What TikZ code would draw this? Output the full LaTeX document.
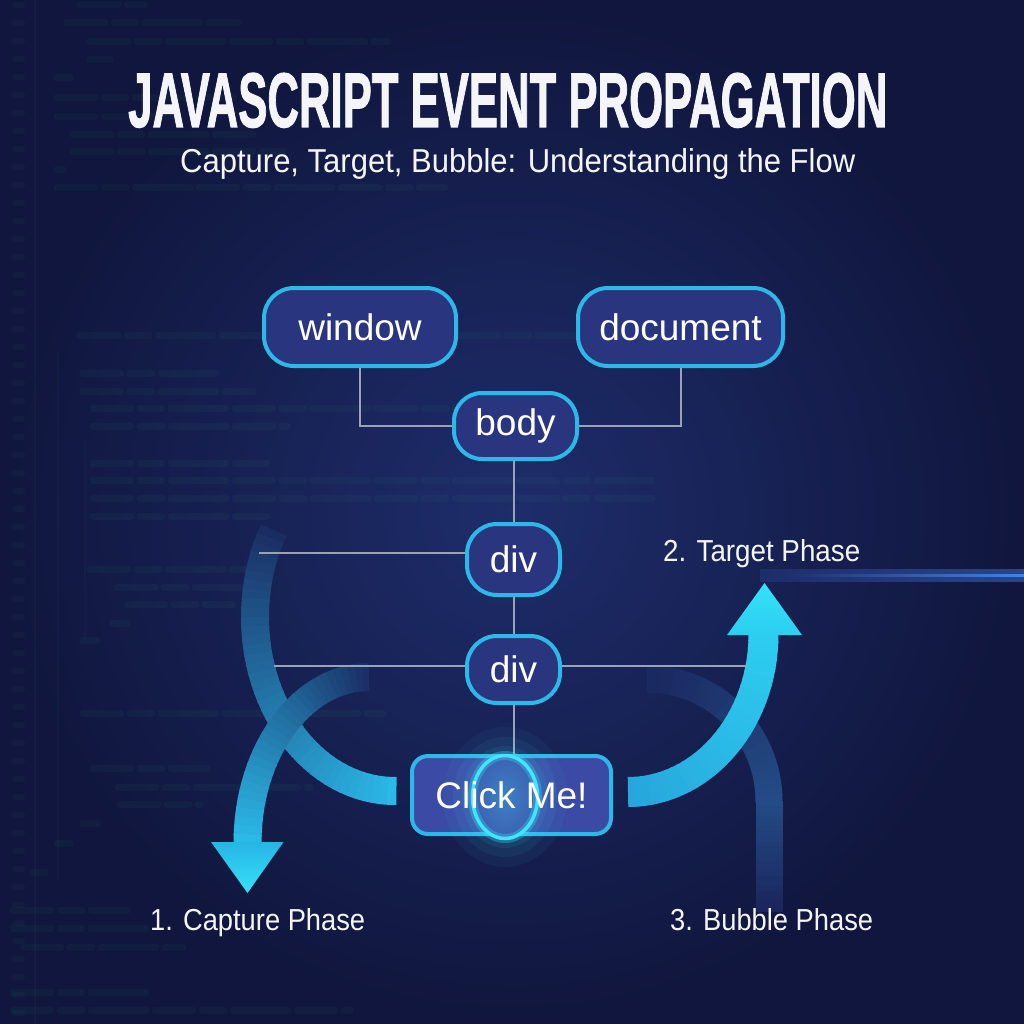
\documentclass[tikz,border=0pt]{standalone}
\usepackage{fontspec}
\setmainfont{Liberation Sans}
\newfontfamily\titlefont{Liberation Sans Bold}[FakeBold=1.6]
\usepackage{graphicx}
\usetikzlibrary{calc}
\definecolor{bgin}{HTML}{1E2D6B}
\definecolor{bgout}{HTML}{10163D}
\definecolor{bgmid}{HTML}{19245A}
\definecolor{nodefill}{HTML}{29367F}
\definecolor{clickfill}{HTML}{3B4AA4}
\definecolor{nodeborder}{HTML}{2DB9E8}
\definecolor{conngray}{HTML}{9AA2B6}
\definecolor{arrowc}{HTML}{2BBCEB}
\definecolor{arrowa}{HTML}{27A6DC}
\definecolor{arrowb}{HTML}{2DCDF0}
\definecolor{headtop}{HTML}{28B4E4}
\definecolor{headbot}{HTML}{34E2F8}
\definecolor{bubblec}{HTML}{3A9FE2}
\definecolor{codegreen}{HTML}{3AAA7A}
\definecolor{ringc}{HTML}{3FE6FF}
\definecolor{streak}{HTML}{4A9BFF}
\definecolor{titlec}{HTML}{F4F5F8}
\tikzset{
  dom/.style={draw=nodeborder, line width=4pt, fill=nodefill, rounded corners=#1,
    inner sep=0pt, text=white, font=\fontsize{37}{44}\selectfont},
  conn/.style={draw=conngray, line width=2pt},
  codebar/.style={draw=codegreen, opacity=0.06, line width=7pt, line cap=round,
    dash pattern=on 38pt off 9pt on 22pt off 9pt on 55pt off 9pt},
  numbar/.style={draw=codegreen, opacity=0.05, line width=6pt, line cap=round},
  label/.style={anchor=base west, inner sep=0pt, text=titlec},
}
\begin{document}
\begin{tikzpicture}[x=1pt,y=-1pt]
\useasboundingbox (0,0) rectangle (1024,1024);
% background
\shade[inner color=bgin, outer color=bgout] (0,0) rectangle (1024,1024);
% blurred code decoration
\foreach \xa/\xb/\yy in {80/145/5, 67/238/23, 90/388/42, 90/110/60, 57/70/78, 57/233/98,
  57/173/117, 73/260/135, 73/290/152, 57/63/170, 57/445/188,
  80/300/335, 460/590/335, 83/220/373, 83/253/391, 93/460/408, 93/287/426, 93/267/463,
  93/660/480, 93/660/498, 93/267/516, 90/253/569, 117/247/587, 127/233/604, 113/127/623,
  83/97/640, 83/383/713, 93/207/768, 118/310/787, 120/200/804, 83/97/823, 57/70/843,
  33/45/872, 13/127/910, 13/147/928, 23/183/947, 13/150/992, 13/350/1010}
  \draw[codebar] (\xa,\yy) -- (\xb,\yy);
\foreach \yy in {5,23,...,1013} \draw[numbar] (15,\yy) -- (22,\yy);
\draw[draw=codegreen, opacity=0.05, line width=1.5pt] (35,0) -- (35,1024);
\draw[draw=codegreen, opacity=0.04, line width=1.5pt] (58,350) -- (58,880);
\draw[draw=codegreen, opacity=0.04, line width=1.5pt] (85,440) -- (85,640);
% streak
\shade[left color=bgin, right color=streak!22!bgin] (760,569) rectangle (1024,581);
\shade[left color=bgin, right color=streak!80!bgin] (780,574) rectangle (1024,576);
% capture upper arc (fading)
\foreach \i in {0,...,39}{
  \pgfmathsetmacro{\a}{150+\i*3}
  \pgfmathtruncatemacro{\p}{6+92*(\i/39)^0.9}
  \draw[draw=arrowc!\p!bgmid, line width=28pt]
    ($(395,617)+(\a:140pt and 174pt)$) arc[start angle=\a, delta angle=3.6, x radius=140pt, y radius=174pt];
}
% capture lower arc
\foreach \i in {0,...,29}{
  \pgfmathsetmacro{\a}{90+\i*3}
  \pgfmathtruncatemacro{\p}{8+90*\i/29}
  \draw[draw=arrowc!\p!bgmid, line width=28pt]
    ($(369,843)+(\a:121.5pt and 166pt)$) arc[start angle=\a, delta angle=3.6, x radius=121.5pt, y radius=166pt];
}
\shade[top color=headtop, bottom color=headbot] (211,842) -- (283.5,842) -- (247.5,893) -- cycle;
% bubble arc (faint)
\foreach \i in {0,...,29}{
  \pgfmathsetmacro{\a}{90-\i*3}
  \pgfmathtruncatemacro{\p}{4+28*\i/29}
  \draw[draw=bubblec!\p!bgmid, line width=27pt]
    ($(647,801)+(\a:122pt and 122pt)$) arc[start angle=\a, delta angle=-3.6, radius=122pt];
}
\foreach \i in {0,...,21}{
  \pgfmathsetmacro{\ya}{801+\i*5}
  \pgfmathsetmacro{\yb}{\ya+6}
  \pgfmathtruncatemacro{\p}{32-30*\i/21}
  \draw[draw=bubblec!\p!bgmid, line width=27pt] (769,\ya) -- (769,\yb);
}
% target arc
\foreach \i in {0,...,29}{
  \pgfmathsetmacro{\a}{270+\i*3}
  \pgfmathtruncatemacro{\p}{100*\i/29}
  \draw[draw=arrowb!\p!arrowa, line width=30pt]
    ($(628,634)+(\a:135.5pt and 158pt)$) arc[start angle=\a, delta angle=3.6, x radius=135.5pt, y radius=158pt];
}
\shade[top color=headbot, bottom color=arrowb] (727,635) -- (802,635) -- (764.5,583) -- cycle;
% nodes
\node[dom=30pt, minimum width=192pt, minimum height=78pt] (window) at (360,327) {window};
\node[dom=30pt, minimum width=205pt, minimum height=78pt] (document) at (680.5,327) {document};
\node[dom=28pt, minimum width=123pt, minimum height=66pt] (body) at (515.5,426) {body};
\node[dom=30pt, minimum width=93pt, minimum height=71pt] (div1) at (513.5,559.5) {div};
\node[dom=30pt, minimum width=93pt, minimum height=67pt] (div2) at (513.5,669.5) {div};
\node[dom=16pt, fill=clickfill, minimum width=199pt, minimum height=78pt] (click) at (511.5,795) {};
% connectors
\coordinate (l1) at (259,552.5);
\coordinate (l2) at (274,665.5);
\coordinate (r2) at (747,665.5);
\draw[conn] (window.south) |- (body.west);
\draw[conn] (document.south) |- (body.east);
\draw[conn] (body.south -| div1.north) -- (div1.north);
\draw[conn] (div1.south) -- (div2.north);
\draw[conn] (div2.south) -- (div2.south |- click.north);
\draw[conn] (l1) -- (l1 -| div1.west);
\draw[conn] (l2) -- (l2 -| div2.west);
\draw[conn] (r2 -| div2.east) -- (r2);
% click ring glow
\coordinate (g) at (505,797);
\fill[ringc, opacity=0.05] (g) ellipse [x radius=62pt, y radius=70pt];
\fill[ringc, opacity=0.06] (g) ellipse [x radius=52pt, y radius=60pt];
\fill[ringc, opacity=0.08] (g) ellipse [x radius=43pt, y radius=51pt];
\shade[inner color=ringc!35!clickfill, outer color=clickfill!85!ringc] (g) ellipse [x radius=32pt, y radius=41pt];
\draw[ringc, line width=9pt, opacity=0.3] (g) ellipse [x radius=32.5pt, y radius=41.5pt];
\draw[ringc, line width=3.5pt] (g) ellipse [x radius=32.5pt, y radius=41.5pt];
\node[inner sep=0pt, text=white, font=\fontsize{37}{44}\selectfont] (clicklabel) at (click.center) {Click Me!};
% titles
\node[label] (title) at (128,127) {\resizebox{759pt}{54pt}{\titlefont JAVASCRIPT EVENT PROPAGATION}};
\node[label] (subtitle) at (180,172.5) {\resizebox{675pt}{24pt}{Capture, Target, Bubble: Understanding the Flow}};
\node[label] (tgt) at (663,561) {\resizebox{197pt}{22pt}{2. Target Phase}};
\node[label] (cap) at (150,930) {\resizebox{215pt}{22pt}{1. Capture Phase}};
\node[label] (bub) at (670,930) {\resizebox{203pt}{22pt}{3. Bubble Phase}};
\end{tikzpicture}
\end{document}
